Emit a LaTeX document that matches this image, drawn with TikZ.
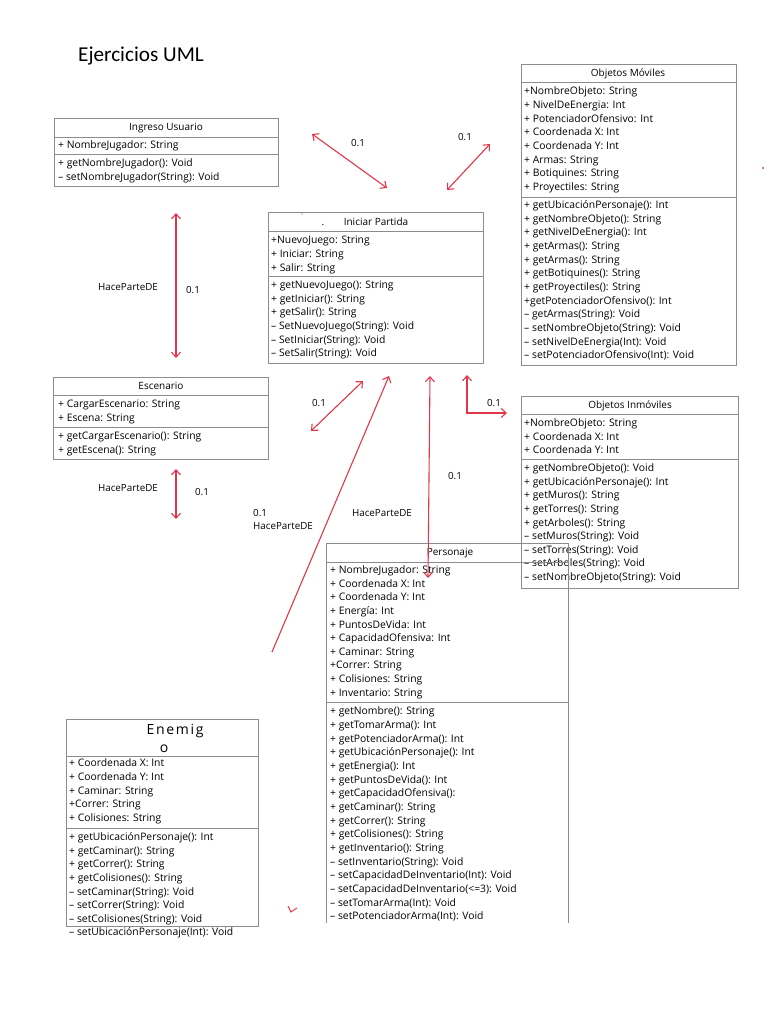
\documentclass[tikz,border=0pt]{standalone}
\usepackage{fontspec}
\setmainfont{Open Sans}
\newfontfamily\titlefont{Carlito}
\newfontfamily\spacedfont[LetterSpace=12]{Open Sans}
\usetikzlibrary{arrows.meta}
\definecolor{boxline}{HTML}{8C8C8C}
\definecolor{relred}{HTML}{E2374B}
\tikzset{
  >={Straight Barb[length=5pt,width=9pt]},
  box/.style={draw=boxline, line width=0.8pt},
  rel/.style={draw=relred, line width=1.1pt},
  head/.style={font=\fontsize{10}{12}\selectfont, anchor=base, inner sep=0pt, yshift=-3.6pt},
  item/.style={font=\fontsize{10.35}{12}\selectfont, anchor=base west, inner sep=0pt, yshift=-3.7pt},
  labm/.style={font=\fontsize{9.8}{12}\selectfont, anchor=base, inner sep=0pt, yshift=-3.5pt},
  reddot/.style={fill=relred, circle, inner sep=0.8pt}
}
\begin{document}
\begin{tikzpicture}[x=1pt,y=-1pt]
  \useasboundingbox (0,0) rectangle (768,1024);
  \node[anchor=base west, inner sep=0pt, font=\titlefont\fontsize{21.2}{24}\selectfont] (title) at (78,62) {Ejercicios UML};

  % Ingreso Usuario
  \draw[box] (54,118) rectangle (278,186);
  \draw[box] (54,137) -- (278,137);
  \draw[box] (54,154) -- (278,154);
  \node[head] (ingreso) at (166,127) {Ingreso Usuario};
  \node[item] (ingreso-a1) at (58,145) {+ NombreJugador: String};
  \foreach \t [count=\i from 0] in {+ getNombreJugador(): Void, – setNombreJugador(String): Void}
    \node[item] (ingreso-m\i) at (58,163+14*\i) {\t};

  % Iniciar Partida
  \draw[box] (268,212) rectangle (483,363);
  \draw[box] (268,231) -- (483,231);
  \draw[box] (268,276) -- (483,276);
  \node[head] (iniciar) at (376,222) {Iniciar Partida};
  \node[labm] (iniciar-dot) at (323,222) {.};
  \fill[black!70] (302,214) circle (0.7);
  \foreach \t [count=\i from 0] in {+NuevoJuego: String, + Iniciar: String, + Salir: String}
    \node[item] (iniciar-a\i) at (271,240+14*\i) {\t};
  \foreach \t [count=\i from 0] in {+ getNuevoJuego(): String, + getIniciar(): String, + getSalir(): String,
      – SetNuevoJuego(String): Void, – SetIniciar(String): Void, – SetSalir(String): Void}
    \node[item] (iniciar-m\i) at (271,285+13.6*\i) {\t};

  % Objetos Moviles
  \draw[box] (521,64) rectangle (736,365);
  \draw[box] (521,82) -- (736,82);
  \draw[box] (521,197) -- (736,197);
  \node[head] (moviles) at (628,73) {Objetos Móviles};
  \foreach \t [count=\i from 0] in {+NombreObjeto: String, + NivelDeEnergia: Int, + PotenciadorOfensivo: Int,
      + Coordenada X: Int, + Coordenada Y: Int, + Armas: String, + Botiquines: String, + Proyectiles: String}
    \node[item] (moviles-a\i) at (524,91+13.7*\i) {\t};
  \foreach \t [count=\i from 0] in {+ getUbicaciónPersonaje(): Int, + getNombreObjeto(): String,
      + getNivelDeEnergia(): Int, + getArmas(): String, + getArmas(): String, + getBotiquines(): String,
      + getProyectiles(): String, +getPotenciadorOfensivo(): Int, – getArmas(String): Void,
      – setNombreObjeto(String): Void, – setNivelDeEnergia(Int): Void, – setPotenciadorOfensivo(Int): Void}
    \node[item] (moviles-m\i) at (524,205+13.65*\i) {\t};

  % Escenario
  \draw[box] (53,377) rectangle (268,459);
  \draw[box] (53,395) -- (268,395);
  \draw[box] (53,427) -- (268,427);
  \node[head] (escenario) at (161,386) {Escenario};
  \foreach \t [count=\i from 0] in {+ CargarEscenario: String, + Escena: String}
    \node[item] (escenario-a\i) at (58,404+14*\i) {\t};
  \foreach \t [count=\i from 0] in {+ getCargarEscenario(): String, + getEscena(): String}
    \node[item] (escenario-m\i) at (58,436+14*\i) {\t};

  % Objetos Inmoviles
  \draw[box] (521,396) rectangle (738,588);
  \draw[box] (521,414) -- (738,414);
  \draw[box] (521,459) -- (738,459);
  \node[head] (inmoviles) at (630,405) {Objetos Inmóviles};
  \foreach \t [count=\i from 0] in {+NombreObjeto: String, + Coordenada X: Int, + Coordenada Y: Int}
    \node[item] (inmoviles-a\i) at (524,423+13.6*\i) {\t};
  \foreach \t [count=\i from 0] in {+ getNombreObjeto(): Void, + getUbicaciónPersonaje(): Int,
      + getMuros(): String, + getTorres(): String, + getArboles(): String, – setMuros(String): Void,
      – setTorres(String): Void, – setArboles(String): Void, – setNombreObjeto(String): Void}
    \node[item] (inmoviles-m\i) at (524,468+13.6*\i) {\t};

  % Personaje
  \draw[box] (326,923) -- (326,543) -- (568,543) -- (568,923);
  \draw[box] (326,562) -- (568,562);
  \draw[box] (326,702) -- (568,702);
  \node[head] (personaje) at (450,552) {Personaje};
  \foreach \t [count=\i from 0] in {+ NombreJugador: String, + Coordenada X: Int, + Coordenada Y: Int,
      + Energía: Int, + PuntosDeVida: Int, + CapacidadOfensiva: Int, + Caminar: String,
      +Correr: String, + Colisiones: String, + Inventario: String}
    \node[item] (personaje-a\i) at (330,570+13.6*\i) {\t};
  \foreach \t [count=\i from 0] in {+ getNombre(): String, + getTomarArma(): Int, + getPotenciadorArma(): Int,
      + getUbicaciónPersonaje(): Int, + getEnergia(): Int, + getPuntosDeVida(): Int,
      + getCapacidadOfensiva():, + getCaminar(): String, + getCorrer(): String,
      + getColisiones(): String, + getInventario(): String, – setInventario(String): Void,
      – setCapacidadDeInventario(Int): Void, – setCapacidadDeInventario(<=3): Void,
      – setTomarArma(Int): Void, – setPotenciadorArma(Int): Void}
    \node[item] (personaje-m\i) at (330,711+13.67*\i) {\t};

  % Enemigo
  \draw[box] (66,719) rectangle (258,926);
  \draw[box] (66,756) -- (258,756);
  \draw[box] (66,828) -- (258,828);
  \node[head, font=\spacedfont\fontsize{14}{16}\selectfont] (enemigo) at (175,731) {Enemig};
  \node[head, font=\spacedfont\fontsize{14}{16}\selectfont] (enemigo-b) at (164,749) {o};
  \foreach \t [count=\i from 0] in {+ Coordenada X: Int, + Coordenada Y: Int, + Caminar: String,
      +Correr: String, + Colisiones: String}
    \node[item] (enemigo-a\i) at (69,763+13.7*\i) {\t};
  \foreach \t [count=\i from 0] in {+ getUbicaciónPersonaje(): Int, + getCaminar(): String,
      + getCorrer(): String, + getColisiones(): String, – setCaminar(String): Void,
      – setCorrer(String): Void, – setColisiones(String): Void, – setUbicaciónPersonaje(Int): Void}
    \node[item] (enemigo-m\i) at (69,837+13.6*\i) {\t};

  % relaciones
  \coordinate (r1a) at (312,134); \coordinate (r1b) at (387,188);
  \coordinate (r2a) at (490,144); \coordinate (r2b) at (447,190);
  \coordinate (r3a) at (176,213); \coordinate (r3b) at (176,358);
  \coordinate (r4a) at (176,469); \coordinate (r4b) at (176,519);
  \coordinate (r5a) at (311,431); \coordinate (r5b) at (363,381);
  \coordinate (r6a) at (272,652); \coordinate (r6b) at (389,376);
  \coordinate (r7a) at (430,376); \coordinate (r7b) at (428,578);
  \coordinate (r8a) at (467,375); \coordinate (r8b) at (507,413);
  \draw[rel,<->] (r1a) -- (r1b);
  \draw[rel,<->] (r2a) -- (r2b);
  \draw[rel,<->] (r3a) -- (r3b);
  \draw[rel,<->] (r4a) -- (r4b);
  \draw[rel,<->] (r5a) -- (r5b);
  \draw[rel,->] (r6a) -- (r6b);
  \draw[rel,<->] (r7a) -- (r7b);
  \draw[rel,<->] (r8a) |- (r8b);

  \node[labm] (l1) at (358,143) {0.1};
  \node[labm] (l2) at (465,137) {0.1};
  \node[labm] (l3) at (128,287) {HaceParteDE};
  \node[labm] (l4) at (193,290) {0.1};
  \node[labm] (l5) at (128,488) {HaceParteDE};
  \node[labm] (l6) at (202,492) {0.1};
  \node[labm] (l7) at (319,403) {0.1};
  \node[labm] (l8) at (494,403) {0.1};
  \node[labm] (l9) at (455,476) {0.1};
  \node[labm] (l10) at (382,513) {HaceParteDE};
  \node[labm, anchor=base west] (l11) at (253,513) {0.1};
  \node[labm, anchor=base west] (l12) at (253,526) {HaceParteDE};

  % marcas sueltas
  \node[reddot] (dot1) at (763,168) {};
  \draw[rel, line width=0.9pt] (288,906) -- (291,912) -- (297,908);
\end{tikzpicture}
\end{document}
